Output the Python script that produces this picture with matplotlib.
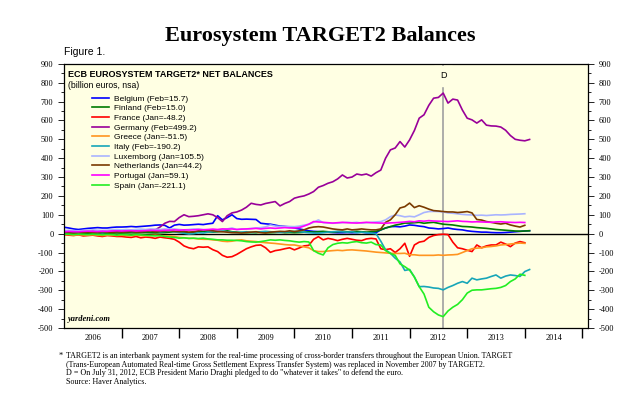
import numpy as np
import matplotlib
matplotlib.use("Agg")
import matplotlib.pyplot as plt
from matplotlib.ticker import MultipleLocator, FixedLocator, NullFormatter, FixedFormatter

plt.rcParams["axes.unicode_minus"] = False

# monthly TARGET2 net balances, billion euros, starting Jan 2006
belgium = [34, 30, 25, 22, 25, 28, 30, 32, 30, 30, 33, 35,
           35, 36, 38, 36, 38, 40, 42, 45, 46, 44, 30, 45,
           49, 45, 46, 48, 50, 48, 52, 55, 95, 73, 85, 100,
           80, 76, 77, 76, 75, 55, 52, 50, 45, 40, 38, 36,
           30, 25, 20, 15, 12, 11, 10, 8, 6, 5, 5, 6,
           5, 6, 8, 5, 4, 5, 20, 30, 37, 38, 36, 40,
           46, 44, 40, 37, 30, 28, 25, 27, 30, 25, 22, 20,
           15, 12, 10, 8, 8, 6, 5, 5, 6, 8, 10, 12,
           14, 15.7]
finland = [2, 3, 2, 4, 3, 2, 3, 4, 3, 2, 3, 4,
           3, 4, 5, 4, 5, 6, 5, 4, 5, 6, 8, 10,
           8, 6, 5, 8, 10, 12, 10, 8, 10, 12, 15, 10,
           8, 6, 5, 6, 5, 8, 6, 5, 6, 8, 5, 6,
           5, 6, 8, 10, 8, 10, 12, 10, 8, 10, 12, 10,
           10, 12, 10, 8, 10, 12, 20, 30, 37, 45, 50, 56,
           56, 58, 60, 55, 58, 60, 55, 50, 48, 46, 42, 38,
           37, 35, 32, 30, 28, 25, 22, 20, 18, 16, 14, 13,
           14, 15.0]
france = [-5, -8, -10, -6, -12, -10, -8, -12, -15, -10, -12, -15,
          -15, -18, -20, -15, -22, -18, -20, -25, -18, -22, -25, -30,
          -45, -65, -75, -80, -70, -72, -70, -85, -95, -115, -125, -122,
          -110, -95, -80, -70, -62, -60, -75, -99, -90, -86, -80, -75,
          -86, -76, -65, -62, -30, -16, -33, -25, -30, -37, -30, -25,
          -30, -35, -37, -28, -25, -28, -80, -85, -80, -100, -80, -51,
          -120, -60, -45, -40, -20, -10, -5, -3, -5, -45, -75, -80,
          -88, -95, -60, -75, -65, -60, -60, -45, -55, -69, -50, -42,
          -48.2]
germany = [5, 8, 3, 12, 10, 8, 15, 10, 5, 12, 15, 18,
           10, 15, 12, 18, 10, 15, 15, 20, 35, 55, 65, 64,
           85, 100, 90, 92, 95, 100, 105, 100, 85, 64, 95, 110,
           115, 125, 140, 161, 155, 152, 160, 165, 170, 147, 160, 170,
           188, 195, 200, 210, 223, 246, 255, 267, 275, 290, 311, 295,
           300, 316, 311, 316, 305, 323, 337, 400, 444, 454, 488, 459,
           497, 547, 612, 630, 680, 718, 722, 745, 692, 713, 708, 655,
           612, 603, 586, 603, 575, 571, 570, 565, 548, 520, 500, 495,
           492, 499.2]
greece = [-5, -5, -8, -6, -7, -8, -6, -8, -10, -8, -8, -10,
          -8, -10, -10, -8, -10, -12, -10, -8, -10, -12, -12, -15,
          -20, -22, -25, -25, -28, -30, -30, -33, -35, -40, -42, -40,
          -35, -33, -38, -40, -42, -45, -48, -50, -52, -55, -58, -60,
          -60, -65, -70, -75, -90, -95, -95, -92, -90, -88, -90, -87,
          -86, -88, -90, -92, -95, -98, -100, -102, -104, -105, -105, -104,
          -112, -112, -115, -115, -115, -115, -113, -115, -113, -112, -110, -100,
          -90, -80, -77, -75, -70, -68, -65, -60, -58, -55, -52, -50,
          -51.5]
italy = [5, 8, 10, 6, 10, 12, 8, 10, 5, 8, 10, 12,
         10, 15, 12, 10, 15, 20, 18, 15, 10, 12, 15, 10,
         5, 2, -2, 0, 5, 3, 8, 10, 12, 15, 10, 8,
         5, 8, 10, 6, 8, 10, 12, 10, 8, 6, 8, 10,
         12, 10, 8, 5, 3, 2, 5, 8, 10, 12, 10, 8,
         10, 5, 8, 5, 3, 0, -40, -86, -104, -130, -150, -195,
         -190, -230, -281, -280, -283, -288, -290, -298, -285, -275, -263, -254,
         -263, -236, -245, -240, -236, -227, -219, -236, -225, -219, -222, -227,
         -201, -190.2]
luxembourg = [15, 18, 16, 15, 17, 18, 20, 18, 17, 18, 20, 22,
              20, 22, 20, 22, 24, 22, 25, 24, 22, 25, 24, 25,
              22, 20, 22, 25, 24, 22, 20, 18, 20, 22, 25, 30,
              22, 25, 25, 28, 30, 32, 36, 46, 40, 38, 37, 38,
              37, 40, 45, 50, 60, 73, 58, 56, 55, 56, 58, 60,
              58, 60, 56, 58, 60, 62, 64, 73, 90, 99, 95, 89,
              92, 89, 100, 112, 117, 118, 117, 115, 110, 108, 105, 102,
              100, 99, 97, 98, 96, 98, 100, 99, 100, 102, 103, 104,
              105.5]
netherlands = [3, 5, 2, 4, 6, 8, 5, 7, 10, 8, 6, 10,
               8, 10, 12, 8, 10, 12, 15, 10, 12, 14, 16, 12,
               10, 12, 8, 10, 15, 20, 18, 15, 12, 10, 8, 5,
               5, 3, 6, 8, 10, 5, 3, 8, 10, 12, 11, 15,
               11, 15, 20, 30, 35, 37, 35, 30, 25, 22, 20, 25,
               20, 22, 25, 22, 20, 20, 25, 60, 73, 100, 136, 143,
               162, 138, 148, 140, 130, 122, 120, 117, 115, 115, 112, 114,
               117, 110, 75, 72, 64, 60, 55, 51, 55, 46, 40, 35,
               44.2]
portugal = [10, 12, 11, 10, 12, 13, 12, 11, 13, 12, 14, 15,
            14, 15, 16, 14, 15, 16, 18, 17, 16, 18, 18, 20,
            18, 20, 19, 20, 22, 20, 22, 24, 22, 25, 24, 25,
            22, 24, 25, 26, 28, 25, 28, 30, 28, 30, 32, 30,
            30, 32, 40, 50, 64, 62, 60, 58, 56, 58, 60, 58,
            57, 56, 58, 60, 58, 57, 56, 55, 57, 58, 60, 62,
            65, 63, 68, 66, 69, 67, 66, 65, 64, 66, 68, 65,
            64, 62, 63, 62, 61, 60, 62, 63, 61, 60, 59, 60,
            59.1]
spain = [-2, -3, -5, -3, -4, -5, -3, -5, -6, -4, -5, -8,
         -5, -6, -8, -5, -7, -8, -10, -12, -10, -15, -18, -20,
         -24, -22, -25, -24, -26, -24, -28, -30, -33, -33, -35, -35,
         -36, -38, -42, -44, -45, -42, -38, -33, -35, -33, -36, -38,
         -42, -45, -42, -44, -90, -104, -113, -75, -58, -51, -48, -50,
         -45, -42, -48, -50, -45, -58, -60, -90, -105, -115, -160, -175,
         -193, -230, -281, -320, -390, -414, -431, -440, -410, -390, -375, -350,
         -315, -300, -298, -298, -295, -292, -290, -285, -275, -254, -240, -215,
         -221.1]

labels = ["Belgium (Feb=15.7)", "Finland (Feb=15.0)", "France (Jan=-48.2)",
          "Germany (Feb=499.2)", "Greece (Jan=-51.5)", "Italy (Feb=-190.2)",
          "Luxemborg (Jan=105.5)", "Netherlands (Jan=44.2)", "Portugal (Jan=59.1)",
          "Spain (Jan=-221.1)"]
series = [belgium, finland, france, germany, greece, italy,
          luxembourg, netherlands, portugal, spain]
colors = ["#0000ff", "#007a00", "#ff0000", "#990099", "#ff9520", "#17a6b8",
          "#a9b4ff", "#7a3a00", "#ff00ff", "#22ee22"]

years = list(range(2006, 2015))
draghi = 2012 + 7 / 12  # July 31, 2012

serif = "Liberation Serif"
sans = "Liberation Sans"

fig = plt.figure(figsize=(6.4, 3.99), dpi=100)
fig.patch.set_facecolor("white")
ax = fig.add_axes([0.1, 0.178, 0.819, 0.662])
ax.set_facecolor("#ffffe3")

for vals, lab, col in zip(series, labels, colors):
    t = 2006 + np.arange(len(vals)) / 12
    ax.plot(t, vals, color=col, lw=1.2, label=lab)

ax.axhline(0, color="black", lw=1.0, zorder=1)
ax.axvline(draghi, color="#a0a0a0", lw=1.2, zorder=1)
ax.text(draghi, 836, "D", ha="center", va="center", fontsize=6.5,
        family=sans, backgroundcolor="#ffffe3", zorder=3)

ax.set_xlim(2006, 2015.1)
ax.set_ylim(-500, 900)

ax.yaxis.set_major_locator(MultipleLocator(100))
ax.yaxis.set_minor_locator(MultipleLocator(50))
ax.tick_params(axis="y", which="both", left=True, right=True,
               labelleft=True, labelright=True, direction="out",
               labelsize=6, width=0.6)
ax.tick_params(axis="y", which="major", length=4)
ax.tick_params(axis="y", which="minor", length=2)

ax.xaxis.set_major_locator(FixedLocator([y + 1 for y in years]))
ax.xaxis.set_major_formatter(NullFormatter())
ax.xaxis.set_minor_locator(FixedLocator([y + 0.5 for y in years]))
ax.xaxis.set_minor_formatter(FixedFormatter([str(y) for y in years]))
ax.tick_params(axis="x", which="major", direction="out", length=7, width=1.0)
ax.tick_params(axis="x", which="minor", length=0, labelsize=6, pad=4)

for lab in ax.get_xticklabels(minor=True) + ax.yaxis.get_ticklabels(which="both"):
    lab.set_family(serif)

for sp in ax.spines.values():
    sp.set_linewidth(0.9)

ax.text(0.007, 0.975, "ECB EUROSYSTEM TARGET2* NET BALANCES", transform=ax.transAxes,
        fontsize=6.5, fontweight="bold", family=sans, va="top", ha="left")
ax.text(0.007, 0.935, "(billion euros, nsa)", transform=ax.transAxes,
        fontsize=6.2, family=sans, va="top", ha="left")
ax.text(0.008, 0.018, "yardeni.com", transform=ax.transAxes, fontsize=6,
        family=serif, style="italic", fontweight="bold", va="bottom", ha="left")

leg = ax.legend(loc="upper left", bbox_to_anchor=(0.047, 0.895), frameon=False,
                prop={"family": sans, "size": 6}, handlelength=2.1,
                handletextpad=0.6, labelspacing=0.22, borderaxespad=0)

fig.text(0.5, 0.91, "Eurosystem TARGET2 Balances", ha="center", va="center",
         fontsize=16, fontweight="bold", family=serif)
fig.text(0.1, 0.87, "Figure 1.", ha="left", va="center", fontsize=7.5, family=sans)

notes = ("TARGET2 is an interbank payment system for the real-time processing of cross-border transfers throughout the European Union. TARGET\n"
         "(Trans-European Automated Real-time Gross Settlement Express Transfer System) was replaced in November 2007 by TARGET2.\n"
         "D = On July 31, 2012, ECB President Mario Draghi pledged to do \"whatever it takes\" to defend the euro.\n"
         "Source: Haver Analytics.")
fig.text(0.091, 0.118, "*", ha="left", va="top", fontsize=6, family=serif)
fig.text(0.103, 0.118, notes, ha="left", va="top", fontsize=5.75, family=serif,
         linespacing=1.12)

fig.savefig("out.png", dpi=100)
